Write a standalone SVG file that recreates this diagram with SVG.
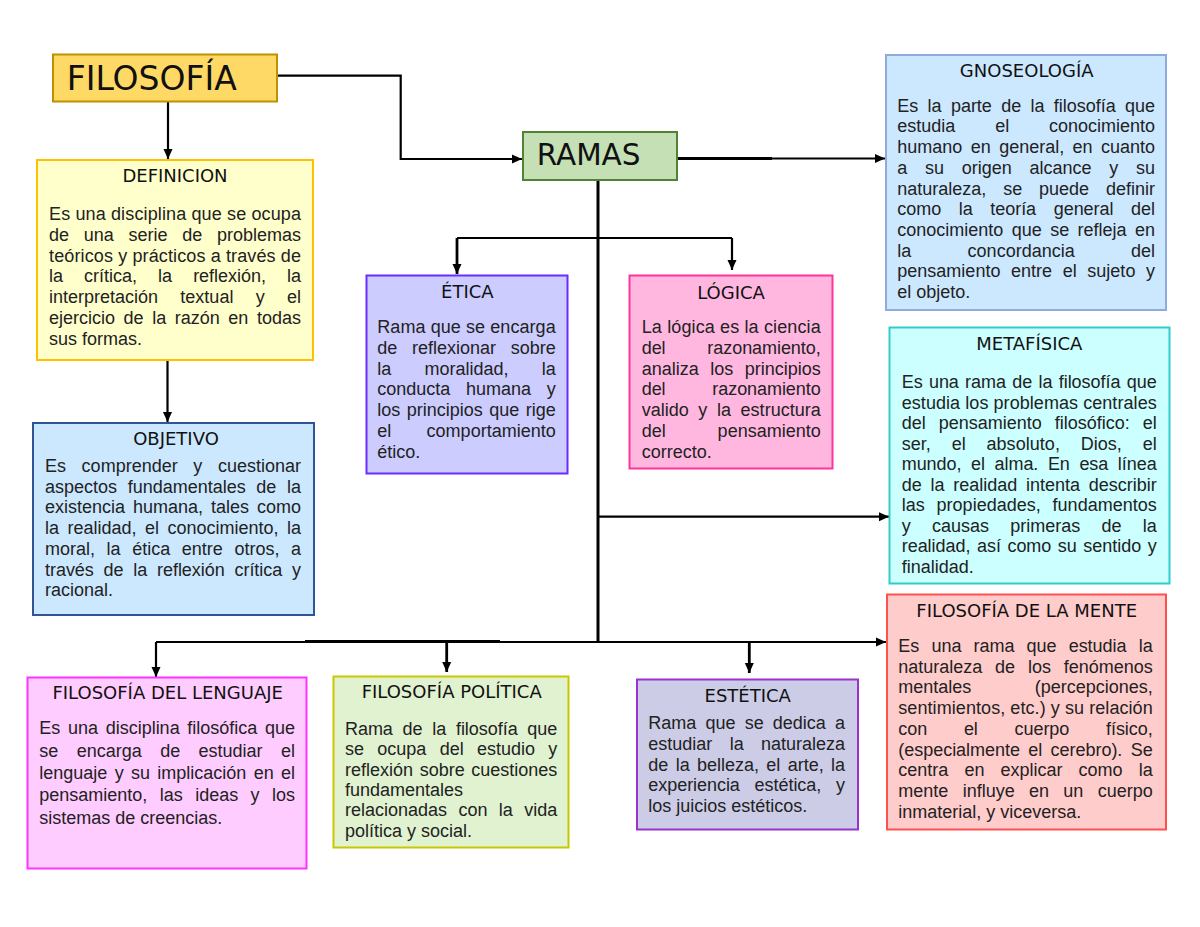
<svg xmlns="http://www.w3.org/2000/svg" width="1200" height="927" viewBox="0 0 1200 927">
<style>
.bg{fill:#ffffff}
.t{font-family:"DejaVu Sans",Verdana,sans-serif;font-size:18px;fill:#111;text-anchor:middle}
.b{font-family:"Liberation Sans",Arial,sans-serif;font-size:18px;fill:#222}
.c{fill:none;stroke:#000;stroke-width:2.2}
.box{stroke-width:2}
</style>
<defs>
<marker id="ah" markerUnits="userSpaceOnUse" markerWidth="11" markerHeight="10" refX="10" refY="5" orient="auto">
<path d="M0,0.5 L10,5 L0,9.5 z" fill="#000"/>
</marker>
</defs>
<rect class="bg" x="0" y="0" width="1200" height="927"/>

<g id="connectors">
<path class="c" d="M168,102 V159" marker-end="url(#ah)"/>
<path class="c" d="M277,75.7 H400.7 V159 H522" marker-end="url(#ah)"/>
<path class="c" d="M167.5,361 V422" marker-end="url(#ah)"/>
<path class="c" d="M677,158.5 H772" style="stroke-width:3.2"/>
<path class="c" d="M677,158.5 H885" marker-end="url(#ah)"/>
<path class="c" d="M598,180 V642" style="stroke-width:3"/>
<path class="c" d="M457,238 H732"/>
<path class="c" d="M457,238 V274" marker-end="url(#ah)" style="stroke-width:2.8"/>
<path class="c" d="M732,238 V270" marker-end="url(#ah)"/>
<path class="c" d="M598,516.7 H889" marker-end="url(#ah)"/>
<path class="c" d="M156,642 H886" marker-end="url(#ah)"/>
<path class="c" d="M305,641.5 H500" style="stroke-width:3"/>
<path class="c" d="M156,642 V677" marker-end="url(#ah)"/>
<path class="c" d="M446.7,642 V672" marker-end="url(#ah)" style="stroke-width:2.8"/>
<path class="c" d="M749.3,642 V673" marker-end="url(#ah)" style="stroke-width:2.8"/>
</g>

<g id="filosofia">
<rect class="box" x="53" y="54.5" width="224" height="47" fill="#FFD966" stroke="#BF9000"/>
<text x="66.7" y="90" style="font-family:'DejaVu Sans',Verdana,sans-serif;font-size:33px;fill:#111">FILOSOFÍA</text>
</g>

<g id="ramas">
<rect class="box" x="523" y="132" width="154" height="48" fill="#C5E0B4" stroke="#548235"/>
<text x="536.7" y="165" style="font-family:'DejaVu Sans',Verdana,sans-serif;font-size:29.5px;fill:#111">RAMAS</text>
</g>

<g id="definicion">
<rect class="box" x="37" y="160" width="276" height="200" fill="#FFFFCC" stroke="#FFC000"/>
<text class="t" x="175" y="182">DEFINICION</text>
<text class="b" x="49" y="220" textLength="252" lengthAdjust="spacing">Es una disciplina que se ocupa</text>
<text class="b" x="49" y="240.8" textLength="252" lengthAdjust="spacing" style="word-spacing:9.7px">de una serie de problemas</text>
<text class="b" x="49" y="261.6" textLength="252" lengthAdjust="spacing">teóricos y prácticos a través de</text>
<text class="b" x="49" y="282.4" textLength="252" lengthAdjust="spacing" style="word-spacing:16.2px">la crítica, la reflexión, la</text>
<text class="b" x="49" y="303.2" textLength="252" lengthAdjust="spacing" style="word-spacing:17.3px">interpretación textual y el</text>
<text class="b" x="49" y="324" textLength="252" lengthAdjust="spacing" style="word-spacing:3.6px">ejercicio de la razón en todas</text>
<text class="b" x="49" y="344.8">sus formas.</text>
</g>

<g id="objetivo">
<rect class="box" x="33" y="423" width="281" height="192" fill="#CCE8FF" stroke="#2F5597"/>
<text class="t" x="176" y="445">OBJETIVO</text>
<text class="b" x="45" y="471.7" textLength="256" lengthAdjust="spacing" style="word-spacing:10.6px">Es comprender y cuestionar</text>
<text class="b" x="45" y="492.5" textLength="256" lengthAdjust="spacing" style="word-spacing:5.6px">aspectos fundamentales de la</text>
<text class="b" x="45" y="513.3" textLength="256" lengthAdjust="spacing" style="word-spacing:3px">existencia humana, tales como</text>
<text class="b" x="45" y="534" textLength="256" lengthAdjust="spacing" style="word-spacing:3.5px">la realidad, el conocimiento, la</text>
<text class="b" x="45" y="554.8" textLength="256" lengthAdjust="spacing" style="word-spacing:6.6px">moral, la ética entre otros, a</text>
<text class="b" x="45" y="575.6" textLength="256" lengthAdjust="spacing" style="word-spacing:4.8px">través de la reflexión crítica y</text>
<text class="b" x="45" y="596.4">racional.</text>
</g>

<g id="etica">
<rect class="box" x="366.5" y="275.5" width="201" height="198" fill="#CCCCFF" stroke="#6A2CFF"/>
<text class="t" x="467.3" y="298.3">ÉTICA</text>
<text class="b" x="377.3" y="333.3" textLength="178.4" lengthAdjust="spacing">Rama que se encarga</text>
<text class="b" x="377.3" y="354" textLength="178.4" lengthAdjust="spacing" style="word-spacing:9.7px">de reflexionar sobre</text>
<text class="b" x="377.3" y="374.7" textLength="178.4" lengthAdjust="spacing" style="word-spacing:28.2px">la moralidad, la</text>
<text class="b" x="377.3" y="395.4" textLength="178.4" lengthAdjust="spacing" style="word-spacing:10.7px">conducta humana y</text>
<text class="b" x="377.3" y="416.1" textLength="178.4" lengthAdjust="spacing" style="word-spacing:1.4px">los principios que rige</text>
<text class="b" x="377.3" y="436.8" textLength="178.4" lengthAdjust="spacing" style="word-spacing:30.3px">el comportamiento</text>
<text class="b" x="377.3" y="457.5">ético.</text>
</g>

<g id="logica">
<rect class="box" x="629.5" y="275.5" width="203" height="193" fill="#FFB7E0" stroke="#FF3399"/>
<text class="t" x="731" y="299">LÓGICA</text>
<text class="b" x="641.7" y="333.3" textLength="179" lengthAdjust="spacing">La lógica es la ciencia</text>
<text class="b" x="641.7" y="354" textLength="179" lengthAdjust="spacing" style="word-spacing:36.9px">del razonamiento,</text>
<text class="b" x="641.7" y="374.7" textLength="179" lengthAdjust="spacing" style="word-spacing:6.5px">analiza los principios</text>
<text class="b" x="641.7" y="395.4" textLength="179" lengthAdjust="spacing" style="word-spacing:41.9px">del razonamiento</text>
<text class="b" x="641.7" y="416.1" textLength="179" lengthAdjust="spacing" style="word-spacing:4.6px">valido y la estructura</text>
<text class="b" x="641.7" y="436.8" textLength="179" lengthAdjust="spacing" style="word-spacing:46.9px">del pensamiento</text>
<text class="b" x="641.7" y="457.5">correcto.</text>
</g>

<g id="gnoseologia">
<rect class="box" x="886" y="55" width="280" height="255" fill="#CCE8FF" stroke="#8FAADC"/>
<text class="t" x="1026.7" y="76.7">GNOSEOLOGÍA</text>
<text class="b" x="897.3" y="111.7" textLength="257.7" lengthAdjust="spacing" style="word-spacing:4.4px">Es la parte de la filosofía que</text>
<text class="b" x="897.3" y="132.4" textLength="257.7" lengthAdjust="spacing" style="word-spacing:34.8px">estudia el conocimiento</text>
<text class="b" x="897.3" y="153.1" textLength="257.7" lengthAdjust="spacing" style="word-spacing:3.4px">humano en general, en cuanto</text>
<text class="b" x="897.3" y="173.8" textLength="257.7" lengthAdjust="spacing" style="word-spacing:12.7px">a su origen alcance y su</text>
<text class="b" x="897.3" y="194.5" textLength="257.7" lengthAdjust="spacing" style="word-spacing:11.9px">naturaleza, se puede definir</text>
<text class="b" x="897.3" y="215.2" textLength="257.7" lengthAdjust="spacing" style="word-spacing:12.7px">como la teoría general del</text>
<text class="b" x="897.3" y="235.9" textLength="257.7" lengthAdjust="spacing" style="word-spacing:3.4px">conocimiento que se refleja en</text>
<text class="b" x="897.3" y="256.6" textLength="257.7" lengthAdjust="spacing" style="word-spacing:51.3px">la concordancia del</text>
<text class="b" x="897.3" y="277.3" textLength="257.7" lengthAdjust="spacing" style="word-spacing:5.6px">pensamiento entre el sujeto y</text>
<text class="b" x="897.3" y="298">el objeto.</text>
</g>

<g id="metafisica">
<rect class="box" x="889.5" y="327.5" width="280" height="256" fill="#CCFFFF" stroke="#33CCCC"/>
<text class="t" x="1029.3" y="350">METAFÍSICA</text>
<text class="b" x="901.7" y="388.3" textLength="255" lengthAdjust="spacing" style="word-spacing:1.3px">Es una rama de la filosofía que</text>
<text class="b" x="901.7" y="408.8" textLength="255" lengthAdjust="spacing">estudia los problemas centrales</text>
<text class="b" x="901.7" y="429.3" textLength="255" lengthAdjust="spacing" style="word-spacing:8px">del pensamiento filosófico: el</text>
<text class="b" x="901.7" y="449.8" textLength="255" lengthAdjust="spacing" style="word-spacing:15.7px">ser, el absoluto, Dios, el</text>
<text class="b" x="901.7" y="470.3" textLength="255" lengthAdjust="spacing" style="word-spacing:4.6px">mundo, el alma. En esa línea</text>
<text class="b" x="901.7" y="490.8" textLength="255" lengthAdjust="spacing" style="word-spacing:3.7px">de la realidad intenta describir</text>
<text class="b" x="901.7" y="511.3" textLength="255" lengthAdjust="spacing" style="word-spacing:6.9px">las propiedades, fundamentos</text>
<text class="b" x="901.7" y="531.8" textLength="255" lengthAdjust="spacing" style="word-spacing:16.2px">y causas primeras de la</text>
<text class="b" x="901.7" y="552.3" textLength="255" lengthAdjust="spacing" style="word-spacing:1.6px">realidad, así como su sentido y</text>
<text class="b" x="901.7" y="572.8">finalidad.</text>
</g>

<g id="mente">
<rect class="box" x="887" y="594.5" width="279" height="235" fill="#FFCCCC" stroke="#FF5050"/>
<text class="t" x="1026.7" y="616.7">FILOSOFÍA DE LA MENTE</text>
<text class="b" x="898.3" y="651.7" textLength="254.4" lengthAdjust="spacing" style="word-spacing:7.1px">Es una rama que estudia la</text>
<text class="b" x="898.3" y="672.5" textLength="254.4" lengthAdjust="spacing" style="word-spacing:7.8px">naturaleza de los fenómenos</text>
<text class="b" x="898.3" y="693.3" textLength="254.4" lengthAdjust="spacing" style="word-spacing:58.3px">mentales (percepciones,</text>
<text class="b" x="898.3" y="714" textLength="254.4" lengthAdjust="spacing">sentimientos, etc.) y su relación</text>
<text class="b" x="898.3" y="734.8" textLength="254.4" lengthAdjust="spacing" style="word-spacing:31.8px">con el cuerpo físico,</text>
<text class="b" x="898.3" y="755.6" textLength="254.4" lengthAdjust="spacing" style="word-spacing:3.4px">(especialmente el cerebro). Se</text>
<text class="b" x="898.3" y="776.4" textLength="254.4" lengthAdjust="spacing" style="word-spacing:11.1px">centra en explicar como la</text>
<text class="b" x="898.3" y="797.2" textLength="254.4" lengthAdjust="spacing" style="word-spacing:9.3px">mente influye en un cuerpo</text>
<text class="b" x="898.3" y="818">inmaterial, y viceversa.</text>
</g>

<g id="lenguaje">
<rect class="box" x="27.5" y="677.5" width="279" height="191" fill="#FFCCFF" stroke="#FF33FF"/>
<text class="t" x="167.7" y="699.3">FILOSOFÍA DEL LENGUAJE</text>
<text class="b" x="39.3" y="734.3" textLength="255.7" lengthAdjust="spacing" style="word-spacing:2.7px">Es una disciplina filosófica que</text>
<text class="b" x="39.3" y="756.6" textLength="255.7" lengthAdjust="spacing" style="word-spacing:13.4px">se encarga de estudiar el</text>
<text class="b" x="39.3" y="778.9" textLength="255.7" lengthAdjust="spacing" style="word-spacing:2.3px">lenguaje y su implicación en el</text>
<text class="b" x="39.3" y="801.2" textLength="255.7" lengthAdjust="spacing" style="word-spacing:7.4px">pensamiento, las ideas y los</text>
<text class="b" x="39.3" y="823.5">sistemas de creencias.</text>
</g>

<g id="politica">
<rect class="box" x="333.5" y="676.5" width="235" height="171" fill="#E0F2D0" stroke="#C8C800"/>
<text class="t" x="451.7" y="698.3">FILOSOFÍA POLÍTICA</text>
<text class="b" x="345" y="735" textLength="212.3" lengthAdjust="spacing" style="word-spacing:4.8px">Rama de la filosofía que</text>
<text class="b" x="345" y="755.3" textLength="212.3" lengthAdjust="spacing" style="word-spacing:8.3px">se ocupa del estudio y</text>
<text class="b" x="345" y="775.6" textLength="212.3" lengthAdjust="spacing" style="word-spacing:1.6px">reflexión sobre cuestiones</text>
<text class="b" x="345" y="795.9">fundamentales</text>
<text class="b" x="345" y="816.2" textLength="212.3" lengthAdjust="spacing" style="word-spacing:6.4px">relacionadas con la vida</text>
<text class="b" x="345" y="836.5">política y social.</text>
</g>

<g id="estetica">
<rect class="box" x="637" y="679.5" width="221" height="150" fill="#CCCCE6" stroke="#9933CC"/>
<text class="t" x="747.7" y="701.7">ESTÉTICA</text>
<text class="b" x="648.3" y="729.3" textLength="196.7" lengthAdjust="spacing" style="word-spacing:4.2px">Rama que se dedica a</text>
<text class="b" x="648.3" y="750" textLength="196.7" lengthAdjust="spacing" style="word-spacing:12.3px">estudiar la naturaleza</text>
<text class="b" x="648.3" y="770.7" textLength="196.7" lengthAdjust="spacing" style="word-spacing:2.3px">de la belleza, el arte, la</text>
<text class="b" x="648.3" y="791.4" textLength="196.7" lengthAdjust="spacing" style="word-spacing:9.8px">experiencia estética, y</text>
<text class="b" x="648.3" y="812.1">los juicios estéticos.</text>
</g>
</svg>
